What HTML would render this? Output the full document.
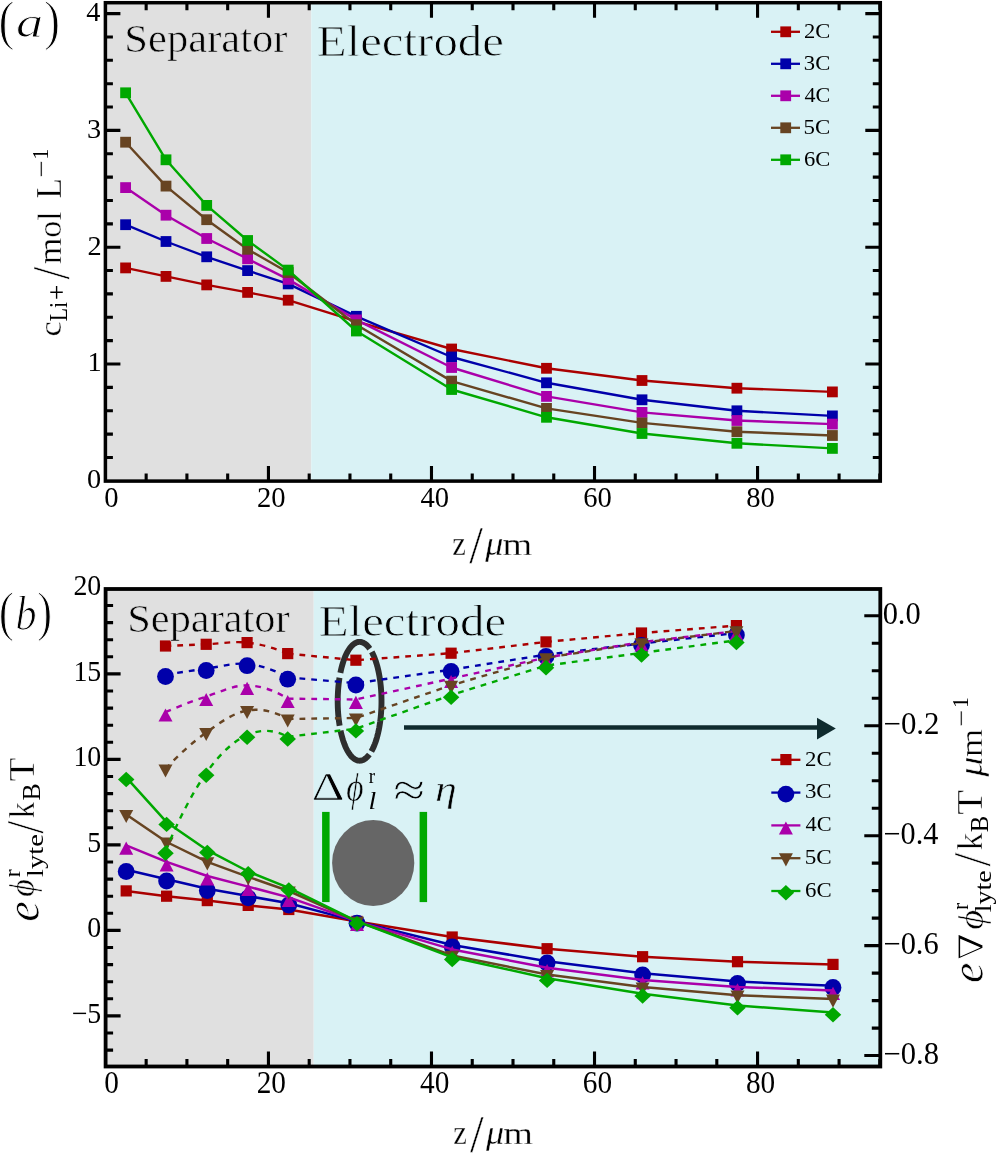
<!DOCTYPE html>
<html><head><meta charset="utf-8"><title>figure</title>
<style>html,body{margin:0;padding:0;background:#fff}svg{display:block}</style></head>
<body>
<svg width="997" height="1153" viewBox="0 0 997 1153">
<rect width="997" height="1153" fill="#fff"/>
<rect x="105.4" y="2.7" width="205.90" height="478.40" fill="#e0e0e0"/>
<rect x="311.3" y="2.7" width="569.00" height="478.40" fill="#d9f2f5"/>
<polyline points="125.60,267.90 166.00,276.40 206.70,284.90 247.60,292.40 288.20,300.20 356.40,321.30 451.60,349.00 546.50,368.30 642.00,380.50 736.90,388.20 832.40,391.90" fill="none" stroke="#aa0000" stroke-width="2.4" stroke-linejoin="round"/>
<rect x="120.20" y="262.50" width="10.8" height="10.8" fill="#aa0000"/>
<rect x="160.60" y="271.00" width="10.8" height="10.8" fill="#aa0000"/>
<rect x="201.30" y="279.50" width="10.8" height="10.8" fill="#aa0000"/>
<rect x="242.20" y="287.00" width="10.8" height="10.8" fill="#aa0000"/>
<rect x="282.80" y="294.80" width="10.8" height="10.8" fill="#aa0000"/>
<rect x="351.00" y="315.90" width="10.8" height="10.8" fill="#aa0000"/>
<rect x="446.20" y="343.60" width="10.8" height="10.8" fill="#aa0000"/>
<rect x="541.10" y="362.90" width="10.8" height="10.8" fill="#aa0000"/>
<rect x="636.60" y="375.10" width="10.8" height="10.8" fill="#aa0000"/>
<rect x="731.50" y="382.80" width="10.8" height="10.8" fill="#aa0000"/>
<rect x="827.00" y="386.50" width="10.8" height="10.8" fill="#aa0000"/>
<polyline points="125.60,224.70 166.00,241.50 206.70,256.80 247.60,270.60 288.20,283.90 356.40,316.30 451.60,357.00 546.50,382.80 642.00,399.80 736.90,410.80 832.40,415.90" fill="none" stroke="#0000aa" stroke-width="2.4" stroke-linejoin="round"/>
<rect x="120.20" y="219.30" width="10.8" height="10.8" fill="#0000aa"/>
<rect x="160.60" y="236.10" width="10.8" height="10.8" fill="#0000aa"/>
<rect x="201.30" y="251.40" width="10.8" height="10.8" fill="#0000aa"/>
<rect x="242.20" y="265.20" width="10.8" height="10.8" fill="#0000aa"/>
<rect x="282.80" y="278.50" width="10.8" height="10.8" fill="#0000aa"/>
<rect x="351.00" y="310.90" width="10.8" height="10.8" fill="#0000aa"/>
<rect x="446.20" y="351.60" width="10.8" height="10.8" fill="#0000aa"/>
<rect x="541.10" y="377.40" width="10.8" height="10.8" fill="#0000aa"/>
<rect x="636.60" y="394.40" width="10.8" height="10.8" fill="#0000aa"/>
<rect x="731.50" y="405.40" width="10.8" height="10.8" fill="#0000aa"/>
<rect x="827.00" y="410.50" width="10.8" height="10.8" fill="#0000aa"/>
<polyline points="125.60,187.60 166.00,215.20 206.70,238.50 247.60,258.80 288.20,279.40 356.40,319.90 451.60,367.50 546.50,396.40 642.00,412.40 736.90,420.50 832.40,424.10" fill="none" stroke="#aa00aa" stroke-width="2.4" stroke-linejoin="round"/>
<rect x="120.20" y="182.20" width="10.8" height="10.8" fill="#aa00aa"/>
<rect x="160.60" y="209.80" width="10.8" height="10.8" fill="#aa00aa"/>
<rect x="201.30" y="233.10" width="10.8" height="10.8" fill="#aa00aa"/>
<rect x="242.20" y="253.40" width="10.8" height="10.8" fill="#aa00aa"/>
<rect x="282.80" y="274.00" width="10.8" height="10.8" fill="#aa00aa"/>
<rect x="351.00" y="314.50" width="10.8" height="10.8" fill="#aa00aa"/>
<rect x="446.20" y="362.10" width="10.8" height="10.8" fill="#aa00aa"/>
<rect x="541.10" y="391.00" width="10.8" height="10.8" fill="#aa00aa"/>
<rect x="636.60" y="407.00" width="10.8" height="10.8" fill="#aa00aa"/>
<rect x="731.50" y="415.10" width="10.8" height="10.8" fill="#aa00aa"/>
<rect x="827.00" y="418.70" width="10.8" height="10.8" fill="#aa00aa"/>
<polyline points="125.60,142.20 166.00,186.10 206.70,219.70 247.60,249.30 288.20,272.50 356.40,324.70 451.60,381.10 546.50,408.40 642.00,422.90 736.90,431.70 832.40,435.50" fill="none" stroke="#674422" stroke-width="2.4" stroke-linejoin="round"/>
<rect x="120.20" y="136.80" width="10.8" height="10.8" fill="#674422"/>
<rect x="160.60" y="180.70" width="10.8" height="10.8" fill="#674422"/>
<rect x="201.30" y="214.30" width="10.8" height="10.8" fill="#674422"/>
<rect x="242.20" y="243.90" width="10.8" height="10.8" fill="#674422"/>
<rect x="282.80" y="267.10" width="10.8" height="10.8" fill="#674422"/>
<rect x="351.00" y="319.30" width="10.8" height="10.8" fill="#674422"/>
<rect x="446.20" y="375.70" width="10.8" height="10.8" fill="#674422"/>
<rect x="541.10" y="403.00" width="10.8" height="10.8" fill="#674422"/>
<rect x="636.60" y="417.50" width="10.8" height="10.8" fill="#674422"/>
<rect x="731.50" y="426.30" width="10.8" height="10.8" fill="#674422"/>
<rect x="827.00" y="430.10" width="10.8" height="10.8" fill="#674422"/>
<polyline points="125.60,92.80 166.00,159.80 206.70,205.40 247.60,240.50 288.20,270.10 356.40,331.00 451.60,389.50 546.50,417.30 642.00,433.50 736.90,443.30 832.40,448.40" fill="none" stroke="#00a800" stroke-width="2.4" stroke-linejoin="round"/>
<rect x="120.20" y="87.40" width="10.8" height="10.8" fill="#00a800"/>
<rect x="160.60" y="154.40" width="10.8" height="10.8" fill="#00a800"/>
<rect x="201.30" y="200.00" width="10.8" height="10.8" fill="#00a800"/>
<rect x="242.20" y="235.10" width="10.8" height="10.8" fill="#00a800"/>
<rect x="282.80" y="264.70" width="10.8" height="10.8" fill="#00a800"/>
<rect x="351.00" y="325.60" width="10.8" height="10.8" fill="#00a800"/>
<rect x="446.20" y="384.10" width="10.8" height="10.8" fill="#00a800"/>
<rect x="541.10" y="411.90" width="10.8" height="10.8" fill="#00a800"/>
<rect x="636.60" y="428.10" width="10.8" height="10.8" fill="#00a800"/>
<rect x="731.50" y="437.90" width="10.8" height="10.8" fill="#00a800"/>
<rect x="827.00" y="443.00" width="10.8" height="10.8" fill="#00a800"/>
<path d="M146.16,481.1 v-7.5 M146.16,2.7 v7.5 M186.92,481.1 v-7.5 M186.92,2.7 v7.5 M227.68,481.1 v-7.5 M227.68,2.7 v7.5 M268.44,481.1 v-15 M268.44,2.7 v15 M309.20,481.1 v-7.5 M309.20,2.7 v7.5 M349.96,481.1 v-7.5 M349.96,2.7 v7.5 M390.72,481.1 v-7.5 M390.72,2.7 v7.5 M431.48,481.1 v-15 M431.48,2.7 v15 M472.24,481.1 v-7.5 M472.24,2.7 v7.5 M513.00,481.1 v-7.5 M513.00,2.7 v7.5 M553.76,481.1 v-7.5 M553.76,2.7 v7.5 M594.52,481.1 v-15 M594.52,2.7 v15 M635.28,481.1 v-7.5 M635.28,2.7 v7.5 M676.04,481.1 v-7.5 M676.04,2.7 v7.5 M716.80,481.1 v-7.5 M716.80,2.7 v7.5 M757.56,481.1 v-15 M757.56,2.7 v15 M798.32,481.1 v-7.5 M798.32,2.7 v7.5 M839.08,481.1 v-7.5 M839.08,2.7 v7.5 M879.84,481.1 v-7.5 M879.84,2.7 v7.5 M105.4,457.44 h7.5 M880.3,457.44 h-7.5 M105.4,434.08 h7.5 M880.3,434.08 h-7.5 M105.4,410.72 h7.5 M880.3,410.72 h-7.5 M105.4,387.36 h7.5 M880.3,387.36 h-7.5 M105.4,364.00 h15 M880.3,364.00 h-15 M105.4,340.64 h7.5 M880.3,340.64 h-7.5 M105.4,317.28 h7.5 M880.3,317.28 h-7.5 M105.4,293.92 h7.5 M880.3,293.92 h-7.5 M105.4,270.56 h7.5 M880.3,270.56 h-7.5 M105.4,247.20 h15 M880.3,247.20 h-15 M105.4,223.84 h7.5 M880.3,223.84 h-7.5 M105.4,200.48 h7.5 M880.3,200.48 h-7.5 M105.4,177.12 h7.5 M880.3,177.12 h-7.5 M105.4,153.76 h7.5 M880.3,153.76 h-7.5 M105.4,130.40 h15 M880.3,130.40 h-15 M105.4,107.04 h7.5 M880.3,107.04 h-7.5 M105.4,83.68 h7.5 M880.3,83.68 h-7.5 M105.4,60.32 h7.5 M880.3,60.32 h-7.5 M105.4,36.96 h7.5 M880.3,36.96 h-7.5 M105.4,13.60 h15 M880.3,13.60 h-15" stroke="#000" stroke-width="3.1" fill="none"/>
<rect x="105.4" y="2.7" width="774.90" height="478.40" fill="none" stroke="#000" stroke-width="3.5"/>
<text x="86.93" y="488.10" font-size="28.30" font-family="'Liberation Serif',serif" textLength="14.15" lengthAdjust="spacingAndGlyphs" fill="#000">0</text>
<text x="87.55" y="371.30" font-size="28.30" font-family="'Liberation Serif',serif" textLength="14.15" lengthAdjust="spacingAndGlyphs" fill="#000">1</text>
<text x="87.41" y="254.50" font-size="28.30" font-family="'Liberation Serif',serif" textLength="14.15" lengthAdjust="spacingAndGlyphs" fill="#000">2</text>
<text x="86.96" y="137.70" font-size="28.30" font-family="'Liberation Serif',serif" textLength="14.15" lengthAdjust="spacingAndGlyphs" fill="#000">3</text>
<text x="86.29" y="20.90" font-size="28.30" font-family="'Liberation Serif',serif" textLength="14.15" lengthAdjust="spacingAndGlyphs" fill="#000">4</text>
<text x="104.35" y="506.60" font-size="28.60" font-family="'Liberation Serif',serif" textLength="14.30" lengthAdjust="spacingAndGlyphs" fill="#000">0</text>
<text x="257.06" y="506.60" font-size="28.60" font-family="'Liberation Serif',serif" textLength="28.60" lengthAdjust="spacingAndGlyphs" fill="#000">20</text>
<text x="420.45" y="506.60" font-size="28.60" font-family="'Liberation Serif',serif" textLength="28.60" lengthAdjust="spacingAndGlyphs" fill="#000">40</text>
<text x="583.15" y="506.60" font-size="28.60" font-family="'Liberation Serif',serif" textLength="28.60" lengthAdjust="spacingAndGlyphs" fill="#000">60</text>
<text x="746.26" y="506.60" font-size="28.60" font-family="'Liberation Serif',serif" textLength="28.60" lengthAdjust="spacingAndGlyphs" fill="#000">80</text>
<line x1="771" y1="31.80" x2="800" y2="31.80" stroke="#aa0000" stroke-width="2.3"/>
<rect x="780.30" y="26.40" width="10.8" height="10.8" fill="#aa0000"/>
<text x="803.91" y="38.20" font-size="21.00" font-family="'Liberation Serif',serif" textLength="26.34" lengthAdjust="spacingAndGlyphs" fill="#000">2C</text>
<line x1="771" y1="63.80" x2="800" y2="63.80" stroke="#0000aa" stroke-width="2.3"/>
<rect x="780.30" y="58.40" width="10.8" height="10.8" fill="#0000aa"/>
<text x="803.82" y="70.20" font-size="21.00" font-family="'Liberation Serif',serif" textLength="26.43" lengthAdjust="spacingAndGlyphs" fill="#000">3C</text>
<line x1="771" y1="95.80" x2="800" y2="95.80" stroke="#aa00aa" stroke-width="2.3"/>
<rect x="780.30" y="90.40" width="10.8" height="10.8" fill="#aa00aa"/>
<text x="804.47" y="102.20" font-size="21.00" font-family="'Liberation Serif',serif" textLength="25.75" lengthAdjust="spacingAndGlyphs" fill="#000">4C</text>
<line x1="771" y1="127.80" x2="800" y2="127.80" stroke="#674422" stroke-width="2.3"/>
<rect x="780.30" y="122.40" width="10.8" height="10.8" fill="#674422"/>
<text x="803.57" y="134.20" font-size="21.00" font-family="'Liberation Serif',serif" textLength="26.69" lengthAdjust="spacingAndGlyphs" fill="#000">5C</text>
<line x1="771" y1="159.80" x2="800" y2="159.80" stroke="#00a800" stroke-width="2.3"/>
<rect x="780.30" y="154.40" width="10.8" height="10.8" fill="#00a800"/>
<text x="803.93" y="166.20" font-size="21.00" font-family="'Liberation Serif',serif" textLength="26.31" lengthAdjust="spacingAndGlyphs" fill="#000">6C</text>
<text x="124.35" y="51.90" font-size="40.00" font-family="'Liberation Serif',serif" textLength="163.22" lengthAdjust="spacingAndGlyphs" fill="#000" stroke="#e0e0e0" stroke-width="0.60">Separator</text>
<text x="316.69" y="55.70" font-size="45.00" font-family="'Liberation Serif',serif" textLength="187.30" lengthAdjust="spacingAndGlyphs" fill="#000" stroke="#d9f2f5" stroke-width="0.79">Electrode</text>
<text x="-1.40" y="38.72" font-size="53.93" font-family="'Liberation Serif',serif" textLength="15.95" lengthAdjust="spacingAndGlyphs" fill="#000" stroke="#fff" stroke-width="1.08">(</text>
<text x="15.98" y="37.34" font-size="44.70" font-family="'Liberation Serif',serif" font-style="italic" textLength="27.16" lengthAdjust="spacingAndGlyphs" fill="#000" stroke="#fff" stroke-width="0.89">a</text>
<text x="44.04" y="38.72" font-size="53.93" font-family="'Liberation Serif',serif" textLength="16.08" lengthAdjust="spacingAndGlyphs" fill="#000" stroke="#fff" stroke-width="1.08">)</text>
<text x="452.37" y="555.20" font-size="32.68" font-family="'Liberation Serif',serif" textLength="13.69" lengthAdjust="spacingAndGlyphs" fill="#000" stroke="#fff" stroke-width="0.29">z</text>
<text x="469.20" y="563.49" font-size="51.72" font-family="'Liberation Serif',serif" textLength="13.60" lengthAdjust="spacingAndGlyphs" fill="#000" stroke="#fff" stroke-width="0.45">/</text>
<text x="485.34" y="555.14" font-size="32.99" font-family="'Liberation Serif',serif" font-style="italic" textLength="18.17" lengthAdjust="spacingAndGlyphs" fill="#000" stroke="#fff" stroke-width="0.29">μ</text>
<text x="502.50" y="555.20" font-size="32.26" font-family="'Liberation Serif',serif" textLength="29.70" lengthAdjust="spacingAndGlyphs" fill="#000" stroke="#fff" stroke-width="0.28">m</text>
<g transform="translate(61.4,0) rotate(-90)">
<text x="-336.50" y="0.08" font-size="32.44" font-family="'Liberation Serif',serif" textLength="15.15" lengthAdjust="spacingAndGlyphs" fill="#000" stroke="#fff" stroke-width="0.41">c</text>
<text x="-321.22" y="5.50" font-size="24.62" font-family="'Liberation Serif',serif" textLength="19.24" lengthAdjust="spacingAndGlyphs" fill="#000">Li</text>
<text x="-300.06" y="4.14" font-size="27.69" font-family="'Liberation Serif',serif" textLength="15.39" lengthAdjust="spacingAndGlyphs" fill="#000">+</text>
<text x="-279.60" y="7.69" font-size="51.72" font-family="'Liberation Serif',serif" textLength="12.70" lengthAdjust="spacingAndGlyphs" fill="#000" stroke="#fff" stroke-width="0.65">/</text>
<text x="-264.21" y="-0.03" font-size="34.11" font-family="'Liberation Serif',serif" textLength="52.89" lengthAdjust="spacingAndGlyphs" fill="#000" stroke="#fff" stroke-width="0.43">mol</text>
<text x="-198.78" y="0.00" font-size="35.43" font-family="'Liberation Serif',serif" textLength="20.71" lengthAdjust="spacingAndGlyphs" fill="#000" stroke="#fff" stroke-width="0.44">L</text>
<text x="-177.95" y="-9.23" font-size="32.13" font-family="'Liberation Serif',serif" textLength="17.57" lengthAdjust="spacingAndGlyphs" fill="#000" stroke="#fff" stroke-width="0.40">−</text>
<text x="-159.75" y="-13.60" font-size="23.02" font-family="'Liberation Serif',serif" textLength="11.08" lengthAdjust="spacingAndGlyphs" fill="#000">1</text>
</g>
<rect x="105.6" y="589.0" width="208.10" height="477.50" fill="#e0e0e0"/>
<rect x="313.7" y="589.0" width="566.60" height="477.50" fill="#d9f2f5"/>
<path d="M371.78,651.94 L372.67,653.64 L373.52,655.45 L374.34,657.38 L375.13,659.42 L375.87,661.55 L376.58,663.79 L377.25,666.12 L377.87,668.53 L378.44,671.03 L378.97,673.60 L379.45,676.23 L379.89,678.93 L380.27,681.69 L380.60,684.49 L380.89,687.33 L381.11,690.21 L381.29,693.12 L381.41,696.04 L381.48,698.98 L381.50,701.92 L381.46,704.86 L381.37,707.80 L381.22,710.72 L381.02,713.61 L380.77,716.47 L380.47,719.30 L380.12,722.08 L379.71,724.81 L379.26,727.49 L378.75,730.10 L378.20,732.64 L377.61,735.10 L376.97,737.48 L376.29,739.77 L375.56,741.96 L374.80,744.06 L374.00,746.05 L373.17,747.93 L372.30,749.69 L371.40,751.34 M369.34,754.51 L368.59,755.47 L367.83,756.35 L367.05,757.16 L366.27,757.88 L365.47,758.53 L364.67,759.09 L363.86,759.57 L363.04,759.96 L362.22,760.27 L361.39,760.50 L360.57,760.64 L359.74,760.70 L358.91,760.67 L358.08,760.56 L357.25,760.36 L356.43,760.07 L355.61,759.71 L354.80,759.26 L353.99,758.72 L353.20,758.10 L352.41,757.41 L351.63,756.63 L350.86,755.77 L350.11,754.83 L349.37,753.82 L348.64,752.73 L347.93,751.57 L347.24,750.34 L346.56,749.03 L345.91,747.66 L345.27,746.22 L344.65,744.71 L344.06,743.15 L343.48,741.52 L342.93,739.84 L342.41,738.10 L341.91,736.31 L341.43,734.46 L340.98,732.57 L340.56,730.64 M339.66,725.84 L339.47,724.70 L339.30,723.56 L339.13,722.41 L338.97,721.25 L338.82,720.07 L338.68,718.89 L338.55,717.71 L338.43,716.51 L338.32,715.31 L338.21,714.11 L338.12,712.89 L338.04,711.68 L337.96,710.45 L337.90,709.23 L337.84,708.00 L337.79,706.77 L337.76,705.53 L337.73,704.29 L337.71,703.06 L337.70,701.82 L337.70,700.58 L337.71,699.34 L337.73,698.10 L337.76,696.87 L337.80,695.63 L337.85,694.40 L337.91,693.17 L337.97,691.95 L338.05,690.73 L338.14,689.51 L338.23,688.30 L338.34,687.09 L338.45,685.89 L338.57,684.70 L338.70,683.51 L338.85,682.33 L339.00,681.16 L339.16,680.00 L339.32,678.85 L339.50,677.71 M340.37,672.87 L340.79,670.86 L341.24,668.90 L341.72,667.00 L342.23,665.14 L342.76,663.34 L343.31,661.59 L343.89,659.91 L344.50,658.28 L345.12,656.73 L345.77,655.24 L346.44,653.81 L347.13,652.46 L347.84,651.19 L348.57,649.99 L349.31,648.87 L350.07,647.82 L350.84,646.86 L351.63,645.98 L352.42,645.18 L353.23,644.47 L354.05,643.84 L354.88,643.30 L355.71,642.84 L356.55,642.48 L357.40,642.20 L358.24,642.01 L359.09,641.92 L359.94,641.91 L360.79,641.99 L361.64,642.16 L362.49,642.42 L363.33,642.77 L364.16,643.20 L364.99,643.73 L365.81,644.34 L366.62,645.04 L367.42,645.82 L368.21,646.68 L368.99,647.63 L369.75,648.66" fill="none" stroke="#2e2e2e" stroke-width="5.9"/>
<polyline points="126.20,890.90 166.60,896.20 207.30,900.60 248.20,905.40 288.80,909.50 357.00,921.40 452.20,937.00 547.10,948.70 642.60,956.70 737.50,961.70 833.00,964.40" fill="none" stroke="#aa0000" stroke-width="2.5" stroke-linejoin="round"/>
<rect x="120.60" y="885.30" width="11.2" height="11.2" fill="#aa0000"/>
<rect x="161.00" y="890.60" width="11.2" height="11.2" fill="#aa0000"/>
<rect x="201.70" y="895.00" width="11.2" height="11.2" fill="#aa0000"/>
<rect x="242.60" y="899.80" width="11.2" height="11.2" fill="#aa0000"/>
<rect x="283.20" y="903.90" width="11.2" height="11.2" fill="#aa0000"/>
<rect x="351.40" y="915.80" width="11.2" height="11.2" fill="#aa0000"/>
<rect x="446.60" y="931.40" width="11.2" height="11.2" fill="#aa0000"/>
<rect x="541.50" y="943.10" width="11.2" height="11.2" fill="#aa0000"/>
<rect x="637.00" y="951.10" width="11.2" height="11.2" fill="#aa0000"/>
<rect x="731.90" y="956.10" width="11.2" height="11.2" fill="#aa0000"/>
<rect x="827.40" y="958.80" width="11.2" height="11.2" fill="#aa0000"/>
<polyline points="126.20,869.70 166.60,879.20 207.30,888.70 248.20,896.10 288.80,903.20 357.00,921.40 452.20,945.00 547.10,961.20 642.60,973.20 737.50,981.60 833.00,985.70" fill="none" stroke="#0000aa" stroke-width="2.5" stroke-linejoin="round"/>
<circle cx="126.20" cy="871.50" r="8.4" fill="#0000aa"/>
<circle cx="166.60" cy="881.00" r="8.4" fill="#0000aa"/>
<circle cx="207.30" cy="890.50" r="8.4" fill="#0000aa"/>
<circle cx="248.20" cy="897.90" r="8.4" fill="#0000aa"/>
<circle cx="288.80" cy="905.00" r="8.4" fill="#0000aa"/>
<circle cx="357.00" cy="923.20" r="8.4" fill="#0000aa"/>
<circle cx="452.20" cy="946.80" r="8.4" fill="#0000aa"/>
<circle cx="547.10" cy="963.00" r="8.4" fill="#0000aa"/>
<circle cx="642.60" cy="975.00" r="8.4" fill="#0000aa"/>
<circle cx="737.50" cy="983.40" r="8.4" fill="#0000aa"/>
<circle cx="833.00" cy="987.50" r="8.4" fill="#0000aa"/>
<polyline points="126.20,845.30 166.60,861.90 207.30,876.00 248.20,886.60 288.80,897.40 357.00,921.40 452.20,949.40 547.10,967.70 642.60,979.90 737.50,986.90 833.00,990.50" fill="none" stroke="#aa00aa" stroke-width="2.5" stroke-linejoin="round"/>
<polygon points="126.20,841.60 119.20,854.80 133.20,854.80" fill="#aa00aa"/>
<polygon points="166.60,858.20 159.60,871.40 173.60,871.40" fill="#aa00aa"/>
<polygon points="207.30,872.30 200.30,885.50 214.30,885.50" fill="#aa00aa"/>
<polygon points="248.20,882.90 241.20,896.10 255.20,896.10" fill="#aa00aa"/>
<polygon points="288.80,893.70 281.80,906.90 295.80,906.90" fill="#aa00aa"/>
<polygon points="357.00,917.70 350.00,930.90 364.00,930.90" fill="#aa00aa"/>
<polygon points="452.20,945.70 445.20,958.90 459.20,958.90" fill="#aa00aa"/>
<polygon points="547.10,964.00 540.10,977.20 554.10,977.20" fill="#aa00aa"/>
<polygon points="642.60,976.20 635.60,989.40 649.60,989.40" fill="#aa00aa"/>
<polygon points="737.50,983.20 730.50,996.40 744.50,996.40" fill="#aa00aa"/>
<polygon points="833.00,986.80 826.00,1000.00 840.00,1000.00" fill="#aa00aa"/>
<polyline points="126.20,814.50 166.60,842.00 207.30,861.80 248.20,876.80 288.80,891.00 357.00,921.40 452.20,955.40 547.10,974.60 642.60,987.00 737.50,995.20 833.00,999.10" fill="none" stroke="#674422" stroke-width="2.5" stroke-linejoin="round"/>
<polygon points="126.20,823.10 119.20,809.90 133.20,809.90" fill="#674422"/>
<polygon points="166.60,850.60 159.60,837.40 173.60,837.40" fill="#674422"/>
<polygon points="207.30,870.40 200.30,857.20 214.30,857.20" fill="#674422"/>
<polygon points="248.20,885.40 241.20,872.20 255.20,872.20" fill="#674422"/>
<polygon points="288.80,899.60 281.80,886.40 295.80,886.40" fill="#674422"/>
<polygon points="357.00,930.00 350.00,916.80 364.00,916.80" fill="#674422"/>
<polygon points="452.20,964.00 445.20,950.80 459.20,950.80" fill="#674422"/>
<polygon points="547.10,983.20 540.10,970.00 554.10,970.00" fill="#674422"/>
<polygon points="642.60,995.60 635.60,982.40 649.60,982.40" fill="#674422"/>
<polygon points="737.50,1003.80 730.50,990.60 744.50,990.60" fill="#674422"/>
<polygon points="833.00,1007.70 826.00,994.50 840.00,994.50" fill="#674422"/>
<polyline points="126.20,777.30 166.60,822.20 207.30,850.20 248.20,871.50 288.80,887.80 357.00,921.40 452.20,957.30 547.10,978.20 642.60,993.80 737.50,1005.60 833.00,1012.50" fill="none" stroke="#00a800" stroke-width="2.5" stroke-linejoin="round"/>
<polygon points="126.20,771.80 134.45,779.50 126.20,787.20 117.95,779.50" fill="#00a800"/>
<polygon points="166.60,816.70 174.85,824.40 166.60,832.10 158.35,824.40" fill="#00a800"/>
<polygon points="207.30,844.70 215.55,852.40 207.30,860.10 199.05,852.40" fill="#00a800"/>
<polygon points="248.20,866.00 256.45,873.70 248.20,881.40 239.95,873.70" fill="#00a800"/>
<polygon points="288.80,882.30 297.05,890.00 288.80,897.70 280.55,890.00" fill="#00a800"/>
<polygon points="357.00,915.90 365.25,923.60 357.00,931.30 348.75,923.60" fill="#00a800"/>
<polygon points="452.20,951.80 460.45,959.50 452.20,967.20 443.95,959.50" fill="#00a800"/>
<polygon points="547.10,972.70 555.35,980.40 547.10,988.10 538.85,980.40" fill="#00a800"/>
<polygon points="642.60,988.30 650.85,996.00 642.60,1003.70 634.35,996.00" fill="#00a800"/>
<polygon points="737.50,1000.10 745.75,1007.80 737.50,1015.50 729.25,1007.80" fill="#00a800"/>
<polygon points="833.00,1007.00 841.25,1014.70 833.00,1022.40 824.75,1014.70" fill="#00a800"/>
<path d="M165.50,646.00 C179.03,645.43 192.60,644.87 206.20,644.30 C219.80,643.73 233.52,641.05 247.10,642.60 C260.68,644.15 274.22,647.82 287.70,653.60" fill="none" stroke="#aa0000" stroke-width="2.4" stroke-dasharray="5.8 6"/>
<polyline points="287.70,653.60 355.90,660.20 451.10,653.20 546.00,641.90 641.50,633.00 736.40,625.60" fill="none" stroke="#aa0000" stroke-width="2.4" stroke-linejoin="round" stroke-dasharray="5.8 6"/>
<rect x="159.90" y="640.40" width="11.2" height="11.2" fill="#aa0000"/>
<rect x="200.60" y="638.70" width="11.2" height="11.2" fill="#aa0000"/>
<rect x="241.50" y="637.00" width="11.2" height="11.2" fill="#aa0000"/>
<rect x="282.10" y="648.00" width="11.2" height="11.2" fill="#aa0000"/>
<rect x="350.30" y="654.60" width="11.2" height="11.2" fill="#aa0000"/>
<rect x="445.50" y="647.60" width="11.2" height="11.2" fill="#aa0000"/>
<rect x="540.40" y="636.30" width="11.2" height="11.2" fill="#aa0000"/>
<rect x="635.90" y="627.40" width="11.2" height="11.2" fill="#aa0000"/>
<rect x="730.80" y="620.00" width="11.2" height="11.2" fill="#aa0000"/>
<path d="M165.50,674.70 C179.03,672.50 192.60,670.50 206.20,668.70 C219.80,666.90 233.52,662.45 247.10,663.90 C260.68,665.35 274.22,669.85 287.70,677.40" fill="none" stroke="#0000aa" stroke-width="2.4" stroke-dasharray="5.8 6"/>
<polyline points="287.70,677.40 355.90,683.20 451.10,669.70 546.00,654.60 641.50,643.50 736.40,633.10" fill="none" stroke="#0000aa" stroke-width="2.4" stroke-linejoin="round" stroke-dasharray="5.8 6"/>
<circle cx="165.50" cy="676.50" r="8.4" fill="#0000aa"/>
<circle cx="206.20" cy="670.50" r="8.4" fill="#0000aa"/>
<circle cx="247.10" cy="665.70" r="8.4" fill="#0000aa"/>
<circle cx="287.70" cy="679.20" r="8.4" fill="#0000aa"/>
<circle cx="355.90" cy="685.00" r="8.4" fill="#0000aa"/>
<circle cx="451.10" cy="671.50" r="8.4" fill="#0000aa"/>
<circle cx="546.00" cy="656.40" r="8.4" fill="#0000aa"/>
<circle cx="641.50" cy="645.30" r="8.4" fill="#0000aa"/>
<circle cx="736.40" cy="634.90" r="8.4" fill="#0000aa"/>
<path d="M165.50,712.10 C179.03,706.22 192.60,701.05 206.20,696.60 C219.80,692.15 233.52,685.07 247.10,685.40 C260.68,685.73 274.22,690.13 287.70,698.60" fill="none" stroke="#aa00aa" stroke-width="2.4" stroke-dasharray="5.8 6"/>
<polyline points="287.70,698.60 355.90,699.50 451.10,678.60 546.00,657.60 641.50,642.10 736.40,631.10" fill="none" stroke="#aa00aa" stroke-width="2.4" stroke-linejoin="round" stroke-dasharray="5.8 6"/>
<polygon points="165.50,708.40 158.50,721.60 172.50,721.60" fill="#aa00aa"/>
<polygon points="206.20,692.90 199.20,706.10 213.20,706.10" fill="#aa00aa"/>
<polygon points="247.10,681.70 240.10,694.90 254.10,694.90" fill="#aa00aa"/>
<polygon points="287.70,694.90 280.70,708.10 294.70,708.10" fill="#aa00aa"/>
<polygon points="355.90,695.80 348.90,709.00 362.90,709.00" fill="#aa00aa"/>
<polygon points="451.10,674.90 444.10,688.10 458.10,688.10" fill="#aa00aa"/>
<polygon points="546.00,653.90 539.00,667.10 553.00,667.10" fill="#aa00aa"/>
<polygon points="641.50,638.40 634.50,651.60 648.50,651.60" fill="#aa00aa"/>
<polygon points="736.40,627.40 729.40,640.60 743.40,640.60" fill="#aa00aa"/>
<path d="M165.50,769.00 C179.03,754.42 192.60,742.25 206.20,732.50 C219.80,722.75 233.52,712.75 247.10,710.50 C260.68,708.25 274.22,711.08 287.70,719.00" fill="none" stroke="#674422" stroke-width="2.4" stroke-dasharray="5.8 6"/>
<polyline points="287.70,719.00 355.90,718.00 451.10,685.30 546.00,657.80 641.50,642.90 736.40,630.90" fill="none" stroke="#674422" stroke-width="2.4" stroke-linejoin="round" stroke-dasharray="5.8 6"/>
<polygon points="165.50,777.60 158.50,764.40 172.50,764.40" fill="#674422"/>
<polygon points="206.20,741.10 199.20,727.90 213.20,727.90" fill="#674422"/>
<polygon points="247.10,719.10 240.10,705.90 254.10,705.90" fill="#674422"/>
<polygon points="287.70,727.60 280.70,714.40 294.70,714.40" fill="#674422"/>
<polygon points="355.90,726.60 348.90,713.40 362.90,713.40" fill="#674422"/>
<polygon points="451.10,693.90 444.10,680.70 458.10,680.70" fill="#674422"/>
<polygon points="546.00,666.40 539.00,653.20 553.00,653.20" fill="#674422"/>
<polygon points="641.50,651.50 634.50,638.30 648.50,638.30" fill="#674422"/>
<polygon points="736.40,639.50 729.40,626.30 743.40,626.30" fill="#674422"/>
<path d="M165.50,851.10 C179.03,818.45 192.60,792.45 206.20,773.10 C219.80,753.75 233.52,741.05 247.10,735.00 C260.68,728.95 274.22,729.55 287.70,736.80" fill="none" stroke="#00a800" stroke-width="2.4" stroke-dasharray="5.8 6"/>
<polyline points="287.70,736.80 355.90,728.70 451.10,695.10 546.00,665.60 641.50,652.90 736.40,640.30" fill="none" stroke="#00a800" stroke-width="2.4" stroke-linejoin="round" stroke-dasharray="5.8 6"/>
<polygon points="165.50,845.60 173.75,853.30 165.50,861.00 157.25,853.30" fill="#00a800"/>
<polygon points="206.20,767.60 214.45,775.30 206.20,783.00 197.95,775.30" fill="#00a800"/>
<polygon points="247.10,729.50 255.35,737.20 247.10,744.90 238.85,737.20" fill="#00a800"/>
<polygon points="287.70,731.30 295.95,739.00 287.70,746.70 279.45,739.00" fill="#00a800"/>
<polygon points="355.90,723.20 364.15,730.90 355.90,738.60 347.65,730.90" fill="#00a800"/>
<polygon points="451.10,689.60 459.35,697.30 451.10,705.00 442.85,697.30" fill="#00a800"/>
<polygon points="546.00,660.10 554.25,667.80 546.00,675.50 537.75,667.80" fill="#00a800"/>
<polygon points="641.50,647.40 649.75,655.10 641.50,662.80 633.25,655.10" fill="#00a800"/>
<polygon points="736.40,634.80 744.65,642.50 736.40,650.20 728.15,642.50" fill="#00a800"/>
<line x1="404" y1="727.5" x2="819" y2="727.5" stroke="#0f2b2e" stroke-width="4.3"/>
<polygon points="817.0,717.7 835.8,728.6 817.0,739.5" fill="#0f2b2e"/>
<ellipse cx="373.2" cy="863.0" rx="41.1" ry="42.9" fill="#666"/>
<rect x="322.1" y="811.9" width="7.5" height="90.2" fill="#00a800"/>
<rect x="419.6" y="811.9" width="7.5" height="90.2" fill="#00a800"/>
<path d="M146.16,1066.5 v-7.5 M186.92,1066.5 v-7.5 M227.68,1066.5 v-7.5 M268.44,1066.5 v-15 M309.20,1066.5 v-7.5 M349.96,1066.5 v-7.5 M390.72,1066.5 v-7.5 M431.48,1066.5 v-15 M472.24,1066.5 v-7.5 M513.00,1066.5 v-7.5 M553.76,1066.5 v-7.5 M594.52,1066.5 v-15 M635.28,1066.5 v-7.5 M676.04,1066.5 v-7.5 M716.80,1066.5 v-7.5 M757.56,1066.5 v-15 M798.32,1066.5 v-7.5 M839.08,1066.5 v-7.5 M879.84,1066.5 v-7.5 M105.6,1050.10 h7.5 M105.6,1033.00 h7.5 M105.6,1015.90 h15 M105.6,998.80 h7.5 M105.6,981.70 h7.5 M105.6,964.60 h7.5 M105.6,947.50 h7.5 M105.6,930.40 h15 M105.6,913.30 h7.5 M105.6,896.20 h7.5 M105.6,879.10 h7.5 M105.6,862.00 h7.5 M105.6,844.90 h15 M105.6,827.80 h7.5 M105.6,810.70 h7.5 M105.6,793.60 h7.5 M105.6,776.50 h7.5 M105.6,759.40 h15 M105.6,742.30 h7.5 M105.6,725.20 h7.5 M105.6,708.10 h7.5 M105.6,691.00 h7.5 M105.6,673.90 h15 M105.6,656.80 h7.5 M105.6,639.70 h7.5 M105.6,622.60 h7.5 M105.6,605.50 h7.5 M880.3,615.80 h-16 M880.3,643.28 h-8.5 M880.3,670.77 h-8.5 M880.3,698.25 h-8.5 M880.3,725.74 h-16 M880.3,753.22 h-8.5 M880.3,780.71 h-8.5 M880.3,808.19 h-8.5 M880.3,835.68 h-16 M880.3,863.16 h-8.5 M880.3,890.65 h-8.5 M880.3,918.13 h-8.5 M880.3,945.62 h-16 M880.3,973.11 h-8.5 M880.3,1000.59 h-8.5 M880.3,1028.08 h-8.5 M880.3,1055.56 h-16" stroke="#000" stroke-width="3.1" fill="none"/>
<rect x="105.6" y="589.0" width="774.70" height="477.50" fill="none" stroke="#000" stroke-width="3.8"/>
<text x="73.42" y="595.40" font-size="29.00" font-family="'Liberation Serif',serif" textLength="27.84" lengthAdjust="spacingAndGlyphs" fill="#000">20</text>
<text x="73.45" y="680.90" font-size="29.00" font-family="'Liberation Serif',serif" textLength="27.84" lengthAdjust="spacingAndGlyphs" fill="#000">15</text>
<text x="73.42" y="766.40" font-size="29.00" font-family="'Liberation Serif',serif" textLength="27.84" lengthAdjust="spacingAndGlyphs" fill="#000">10</text>
<text x="87.37" y="851.90" font-size="29.00" font-family="'Liberation Serif',serif" textLength="13.92" lengthAdjust="spacingAndGlyphs" fill="#000">5</text>
<text x="87.34" y="937.40" font-size="29.00" font-family="'Liberation Serif',serif" textLength="13.92" lengthAdjust="spacingAndGlyphs" fill="#000">0</text>
<text x="71.67" y="1022.90" font-size="29.00" font-family="'Liberation Serif',serif" textLength="29.62" lengthAdjust="spacingAndGlyphs" fill="#000">−5</text>
<text x="882.64" y="624.20" font-size="31.00" font-family="'Liberation Serif',serif" textLength="38.12" lengthAdjust="spacingAndGlyphs" fill="#000">0.0</text>
<text x="883.46" y="734.14" font-size="31.00" font-family="'Liberation Serif',serif" textLength="56.04" lengthAdjust="spacingAndGlyphs" fill="#000">−0.2</text>
<text x="883.50" y="844.08" font-size="31.00" font-family="'Liberation Serif',serif" textLength="54.78" lengthAdjust="spacingAndGlyphs" fill="#000">−0.4</text>
<text x="883.48" y="954.02" font-size="31.00" font-family="'Liberation Serif',serif" textLength="55.22" lengthAdjust="spacingAndGlyphs" fill="#000">−0.6</text>
<text x="883.48" y="1063.96" font-size="31.00" font-family="'Liberation Serif',serif" textLength="55.49" lengthAdjust="spacingAndGlyphs" fill="#000">−0.8</text>
<text x="104.18" y="1093.30" font-size="31.00" font-family="'Liberation Serif',serif" textLength="14.65" lengthAdjust="spacingAndGlyphs" fill="#000">0</text>
<text x="256.71" y="1093.30" font-size="31.00" font-family="'Liberation Serif',serif" textLength="29.29" lengthAdjust="spacingAndGlyphs" fill="#000">20</text>
<text x="420.10" y="1093.30" font-size="31.00" font-family="'Liberation Serif',serif" textLength="29.29" lengthAdjust="spacingAndGlyphs" fill="#000">40</text>
<text x="582.80" y="1093.30" font-size="31.00" font-family="'Liberation Serif',serif" textLength="29.29" lengthAdjust="spacingAndGlyphs" fill="#000">60</text>
<text x="745.91" y="1093.30" font-size="31.00" font-family="'Liberation Serif',serif" textLength="29.29" lengthAdjust="spacingAndGlyphs" fill="#000">80</text>
<text x="453.17" y="1143.60" font-size="32.68" font-family="'Liberation Serif',serif" textLength="13.69" lengthAdjust="spacingAndGlyphs" fill="#000" stroke="#fff" stroke-width="0.29">z</text>
<text x="470.00" y="1151.89" font-size="51.72" font-family="'Liberation Serif',serif" textLength="13.60" lengthAdjust="spacingAndGlyphs" fill="#000" stroke="#fff" stroke-width="0.45">/</text>
<text x="486.14" y="1143.54" font-size="32.99" font-family="'Liberation Serif',serif" font-style="italic" textLength="18.17" lengthAdjust="spacingAndGlyphs" fill="#000" stroke="#fff" stroke-width="0.29">μ</text>
<text x="503.30" y="1143.60" font-size="32.26" font-family="'Liberation Serif',serif" textLength="29.70" lengthAdjust="spacingAndGlyphs" fill="#000" stroke="#fff" stroke-width="0.28">m</text>
<line x1="771.3" y1="759.80" x2="800.4" y2="759.80" stroke="#aa0000" stroke-width="2.3"/>
<rect x="780.30" y="754.00" width="11.2" height="11.2" fill="#aa0000"/>
<text x="805.00" y="765.60" font-size="21.00" font-family="'Liberation Serif',serif" textLength="26.66" lengthAdjust="spacingAndGlyphs" fill="#000">2C</text>
<line x1="771.3" y1="792.60" x2="800.4" y2="792.60" stroke="#0000aa" stroke-width="2.3"/>
<circle cx="785.90" cy="794.10" r="8.4" fill="#0000aa"/>
<text x="804.90" y="798.40" font-size="21.00" font-family="'Liberation Serif',serif" textLength="26.76" lengthAdjust="spacingAndGlyphs" fill="#000">3C</text>
<line x1="771.3" y1="825.40" x2="800.4" y2="825.40" stroke="#aa00aa" stroke-width="2.3"/>
<polygon points="785.90,821.40 778.90,834.60 792.90,834.60" fill="#aa00aa"/>
<text x="805.56" y="831.20" font-size="21.00" font-family="'Liberation Serif',serif" textLength="26.07" lengthAdjust="spacingAndGlyphs" fill="#000">4C</text>
<line x1="771.3" y1="858.20" x2="800.4" y2="858.20" stroke="#674422" stroke-width="2.3"/>
<polygon points="785.90,866.50 778.90,853.30 792.90,853.30" fill="#674422"/>
<text x="804.65" y="864.00" font-size="21.00" font-family="'Liberation Serif',serif" textLength="27.02" lengthAdjust="spacingAndGlyphs" fill="#000">5C</text>
<line x1="771.3" y1="891.00" x2="800.4" y2="891.00" stroke="#00a800" stroke-width="2.3"/>
<polygon points="785.90,885.10 794.15,892.80 785.90,900.50 777.65,892.80" fill="#00a800"/>
<text x="805.02" y="896.80" font-size="21.00" font-family="'Liberation Serif',serif" textLength="26.64" lengthAdjust="spacingAndGlyphs" fill="#000">6C</text>
<text x="127.26" y="631.90" font-size="40.00" font-family="'Liberation Serif',serif" textLength="162.41" lengthAdjust="spacingAndGlyphs" fill="#000" stroke="#e0e0e0" stroke-width="0.60">Separator</text>
<text x="318.69" y="636.40" font-size="45.00" font-family="'Liberation Serif',serif" textLength="187.41" lengthAdjust="spacingAndGlyphs" fill="#000" stroke="#d9f2f5" stroke-width="0.79">Electrode</text>
<text x="-1.30" y="630.02" font-size="53.93" font-family="'Liberation Serif',serif" textLength="15.17" lengthAdjust="spacingAndGlyphs" fill="#000" stroke="#fff" stroke-width="1.08">(</text>
<text x="15.44" y="629.72" font-size="48.75" font-family="'Liberation Serif',serif" font-style="italic" textLength="21.03" lengthAdjust="spacingAndGlyphs" fill="#000" stroke="#fff" stroke-width="0.97">b</text>
<text x="37.03" y="630.02" font-size="53.93" font-family="'Liberation Serif',serif" textLength="15.17" lengthAdjust="spacingAndGlyphs" fill="#000" stroke="#fff" stroke-width="1.08">)</text>
<text x="311.86" y="800.10" font-size="39.38" font-family="'Liberation Serif',serif" textLength="32.75" lengthAdjust="spacingAndGlyphs" fill="#000" stroke="#d9f2f5" stroke-width="0.59">Δ</text>
<text x="346.23" y="800.69" font-size="39.04" font-family="'Liberation Serif',serif" font-style="italic" textLength="17.36" lengthAdjust="spacingAndGlyphs" fill="#000" stroke="#d9f2f5" stroke-width="0.59">ϕ</text>
<text x="368.82" y="783.30" font-size="21.22" font-family="'Liberation Serif',serif" textLength="6.35" lengthAdjust="spacingAndGlyphs" fill="#000">r</text>
<text x="368.53" y="809.00" font-size="24.36" font-family="'Liberation Serif',serif" font-style="italic" textLength="7.68" lengthAdjust="spacingAndGlyphs" fill="#000">l</text>
<text x="393.29" y="806.33" font-size="47.80" font-family="'Liberation Serif',serif" textLength="31.84" lengthAdjust="spacingAndGlyphs" fill="#000" stroke="#d9f2f5" stroke-width="0.72">≈</text>
<text x="435.03" y="800.62" font-size="35.06" font-family="'Liberation Serif',serif" font-style="italic" textLength="21.79" lengthAdjust="spacingAndGlyphs" fill="#000" stroke="#d9f2f5" stroke-width="0.53">η</text>
<g transform="translate(39.1,0) rotate(-90)">
<text x="-921.63" y="0.33" font-size="47.82" font-family="'Liberation Serif',serif" font-style="italic" textLength="20.68" lengthAdjust="spacingAndGlyphs" fill="#000" stroke="#fff" stroke-width="0.66">e</text>
<text x="-896.68" y="-4.92" font-size="34.85" font-family="'Liberation Serif',serif" font-style="italic" textLength="17.58" lengthAdjust="spacingAndGlyphs" fill="#000" stroke="#fff" stroke-width="0.48">ϕ</text>
<text x="-877.28" y="-19.20" font-size="22.07" font-family="'Liberation Serif',serif" textLength="7.99" lengthAdjust="spacingAndGlyphs" fill="#000">r</text>
<text x="-876.97" y="3.76" font-size="22.43" font-family="'Liberation Serif',serif" textLength="42.76" lengthAdjust="spacingAndGlyphs" fill="#000">lyte</text>
<text x="-833.70" y="3.79" font-size="52.62" font-family="'Liberation Serif',serif" textLength="13.00" lengthAdjust="spacingAndGlyphs" fill="#000" stroke="#fff" stroke-width="0.72">/</text>
<text x="-818.22" y="-4.80" font-size="35.02" font-family="'Liberation Serif',serif" textLength="16.22" lengthAdjust="spacingAndGlyphs" fill="#000" stroke="#fff" stroke-width="0.48">k</text>
<text x="-800.64" y="0.73" font-size="25.09" font-family="'Liberation Serif',serif" textLength="17.20" lengthAdjust="spacingAndGlyphs" fill="#000">B</text>
<text x="-781.51" y="-4.80" font-size="36.50" font-family="'Liberation Serif',serif" textLength="23.96" lengthAdjust="spacingAndGlyphs" fill="#000" stroke="#fff" stroke-width="0.50">T</text>
</g>
<g transform="translate(982.5,0) rotate(-90)">
<text x="-982.92" y="0.45" font-size="46.16" font-family="'Liberation Serif',serif" font-style="italic" textLength="20.45" lengthAdjust="spacingAndGlyphs" fill="#000" stroke="#fff" stroke-width="0.63">e</text>
<text x="-960.28" y="0.70" font-size="34.29" font-family="'DejaVu Serif','Liberation Serif',serif" textLength="27.51" lengthAdjust="spacingAndGlyphs" fill="#000" stroke="#fff" stroke-width="1.11">∇</text>
<text x="-929.68" y="0.68" font-size="36.73" font-family="'Liberation Serif',serif" font-style="italic" textLength="19.88" lengthAdjust="spacingAndGlyphs" fill="#000" stroke="#fff" stroke-width="0.50">ϕ</text>
<text x="-909.81" y="-15.00" font-size="22.28" font-family="'Liberation Serif',serif" textLength="6.90" lengthAdjust="spacingAndGlyphs" fill="#000">r</text>
<text x="-912.36" y="8.47" font-size="23.31" font-family="'Liberation Serif',serif" textLength="41.93" lengthAdjust="spacingAndGlyphs" fill="#000">lyte</text>
<text x="-866.40" y="7.98" font-size="52.77" font-family="'Liberation Serif',serif" textLength="13.90" lengthAdjust="spacingAndGlyphs" fill="#000" stroke="#fff" stroke-width="0.73">/</text>
<text x="-850.37" y="-0.50" font-size="36.75" font-family="'Liberation Serif',serif" textLength="17.47" lengthAdjust="spacingAndGlyphs" fill="#000" stroke="#fff" stroke-width="0.51">k</text>
<text x="-832.21" y="5.43" font-size="24.93" font-family="'Liberation Serif',serif" textLength="16.52" lengthAdjust="spacingAndGlyphs" fill="#000">B</text>
<text x="-814.84" y="-0.50" font-size="36.04" font-family="'Liberation Serif',serif" textLength="24.91" lengthAdjust="spacingAndGlyphs" fill="#000" stroke="#fff" stroke-width="0.50">T</text>
<text x="-776.66" y="-0.18" font-size="33.59" font-family="'Liberation Serif',serif" font-style="italic" textLength="20.41" lengthAdjust="spacingAndGlyphs" fill="#000" stroke="#fff" stroke-width="0.46">μ</text>
<text x="-756.96" y="-0.50" font-size="32.26" font-family="'Liberation Serif',serif" textLength="28.33" lengthAdjust="spacingAndGlyphs" fill="#000" stroke="#fff" stroke-width="0.44">m</text>
<text x="-727.14" y="-10.13" font-size="32.13" font-family="'Liberation Serif',serif" textLength="17.45" lengthAdjust="spacingAndGlyphs" fill="#000" stroke="#fff" stroke-width="0.44">−</text>
<text x="-707.92" y="-15.00" font-size="23.18" font-family="'Liberation Serif',serif" textLength="10.94" lengthAdjust="spacingAndGlyphs" fill="#000">1</text>
</g>
</svg>
</body></html>
